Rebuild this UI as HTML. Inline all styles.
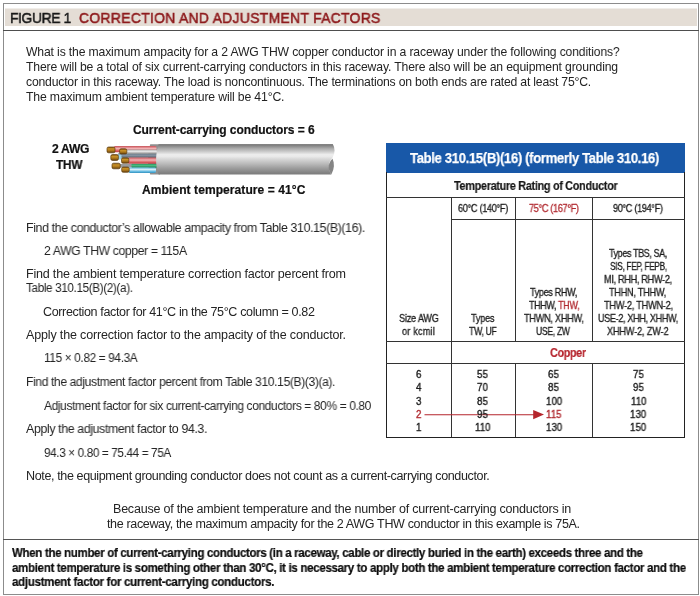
<!DOCTYPE html>
<html lang="en">
<head>
<meta charset="utf-8">
<title>Figure 1 Correction and Adjustment Factors</title>
<style>
html,body{margin:0;padding:0;background:#fff;}
body{width:700px;height:596px;position:relative;overflow:hidden;font-family:"Liberation Sans",sans-serif;}
.x{position:absolute;white-space:nowrap;line-height:1;transform-origin:0 0;color:#333;margin:0;padding:0;will-change:transform;}
.r{color:#242424;}
.b{font-weight:bold;color:#111;-webkit-text-stroke:0.2px currentColor;}
.bb{font-weight:bold;color:#0c0c0c;-webkit-text-stroke:0.2px currentColor;}
.ti{color:#181818;-webkit-text-stroke:0.55px currentColor;}
.red1{color:#8e1b1d;}
.red2{color:#b0282e;}
.red3{color:#b5222b;}
.t{color:#1a1a1a;-webkit-text-stroke:0.3px currentColor;}
.t.red2{color:#b0282e;}
.t.d{-webkit-text-stroke:0.35px currentColor;}
.tb{font-weight:bold;color:#151515;-webkit-text-stroke:0.15px currentColor;}
.tb.red3{color:#b5222b;}
.th{font-weight:bold;color:#fff;-webkit-text-stroke:0.25px #fff;}
.abs{position:absolute;}
</style>
</head>
<body>
<!-- outer frame -->
<div class="abs" style="left:3px;top:3px;width:696px;height:592px;border:1px solid #8c8c8c;box-sizing:border-box;"></div>
<!-- title bar -->
<div class="abs" style="left:5px;top:8px;width:692px;height:1px;background:#f1eeea;"></div>
<div class="abs" style="left:5px;top:9px;width:692px;height:17px;background:#e4ddd5;"></div>
<div class="abs" style="left:3px;top:30px;width:696px;height:1px;background:#4e4e4e;"></div>
<!-- bottom separator -->
<svg class="abs" style="left:0;top:536px;" width="700" height="8"><path d="M3 3.5 H699" stroke="#555" stroke-width="1" fill="none"/></svg>

<!-- table -->
<div class="abs" style="left:386px;top:143px;width:299px;height:30px;background:#1858a8;"></div>
<svg class="abs" style="left:0;top:0;" width="700" height="596" viewBox="0 0 700 596">
  <g stroke="#222" stroke-width="1.2" fill="none" shape-rendering="crispEdges">
    <path d="M386.5 172 V437.5 H684.5 V172"/>
  </g>
  <g stroke="#333" stroke-width="1" fill="none" shape-rendering="crispEdges">
    <path d="M386 197.5 H685"/>
    <path d="M451.5 219.5 H685"/>
    <path d="M386 341.5 H685"/>
    <path d="M386 363.5 H685"/>
    <path d="M451.5 197 V437"/>
    <path d="M515.5 197 V341"/>
    <path d="M515.5 363 V437"/>
    <path d="M592.5 197 V341"/>
    <path d="M592.5 363 V437"/>
  </g>
  <!-- arrow -->
  <path d="M424.5 414.7 H535" stroke="#b5252c" stroke-width="1.1" fill="none"/>
  <path d="M533.2 409.9 L544 414.6 L533.2 419.2 Z" fill="#b5252c"/>
</svg>

<!--CABLE_START-->
<svg class="abs" style="left:100px;top:138px;" width="250" height="44" viewBox="100 138 250 44">
  <defs>
    <linearGradient id="sh" x1="0" y1="0" x2="0" y2="1">
      <stop offset="0" stop-color="#858585"/>
      <stop offset="0.035" stop-color="#7e7e7e"/>
      <stop offset="0.14" stop-color="#a9a9a9"/>
      <stop offset="0.24" stop-color="#c9c9c9"/>
      <stop offset="0.34" stop-color="#ececec"/>
      <stop offset="0.40" stop-color="#ebebeb"/>
      <stop offset="0.49" stop-color="#d8d8d8"/>
      <stop offset="0.65" stop-color="#b9b9b9"/>
      <stop offset="0.80" stop-color="#9b9b9b"/>
      <stop offset="0.93" stop-color="#848484"/>
      <stop offset="1" stop-color="#7a7a7a"/>
    </linearGradient>
    <linearGradient id="cu" x1="0" y1="0" x2="0" y2="1">
      <stop offset="0" stop-color="#7a5010"/>
      <stop offset="0.3" stop-color="#c99228"/>
      <stop offset="0.6" stop-color="#b07a1c"/>
      <stop offset="1" stop-color="#644010"/>
    </linearGradient>
    <linearGradient id="wr" x1="0" y1="0" x2="0" y2="1">
      <stop offset="0" stop-color="#c9545a"/><stop offset="0.4" stop-color="#f3b4b6"/><stop offset="0.75" stop-color="#dc5a5e"/><stop offset="1" stop-color="#b84348"/>
    </linearGradient>
    <linearGradient id="ww" x1="0" y1="0" x2="0" y2="1">
      <stop offset="0" stop-color="#a9a9a9"/><stop offset="0.4" stop-color="#ececec"/><stop offset="1" stop-color="#8f8f8f"/>
    </linearGradient>
    <linearGradient id="wd" x1="0" y1="0" x2="0" y2="1">
      <stop offset="0" stop-color="#5f6f7c"/><stop offset="0.45" stop-color="#8896a4"/><stop offset="1" stop-color="#56626e"/>
    </linearGradient>
    <linearGradient id="wg" x1="0" y1="0" x2="0" y2="1">
      <stop offset="0" stop-color="#1f8a55"/><stop offset="0.4" stop-color="#4fbf86"/><stop offset="1" stop-color="#1c7f4f"/>
    </linearGradient>
    <linearGradient id="wb" x1="0" y1="0" x2="0" y2="1">
      <stop offset="0" stop-color="#5eb6dc"/><stop offset="0.35" stop-color="#d9f0fa"/><stop offset="0.8" stop-color="#4fb0dc"/><stop offset="1" stop-color="#3a93bf"/>
    </linearGradient>
  </defs>
  <!-- inner rim of sheath -->
  <path d="M150.2 144.3 H160 V174.4 H150.2 Q147.6 166 148.2 159 Q147.6 152 150.2 144.3 Z" fill="#8f8f8f"/>
  <!-- wires (back to front) -->
  <rect x="113.5" y="146.1" width="43" height="6.2" rx="1.5" fill="url(#wr)"/>
  <rect x="118" y="153.2" width="39" height="4.6" rx="1" fill="url(#wd)"/>
  <rect x="117.5" y="154.6" width="4" height="5" rx="1" fill="#9ed4ea"/>
  <rect x="125.5" y="149.6" width="31.5" height="4.2" rx="1.2" fill="url(#ww)"/>
  <rect x="119" y="163.9" width="14" height="3.6" fill="#9a9a9a"/>
  <rect x="131.5" y="163.7" width="25.5" height="4" rx="0.8" fill="url(#wg)"/>
  <rect x="127.5" y="157.5" width="29.5" height="6.3" rx="1.5" fill="url(#wr)"/>
  <rect x="128.5" y="167.6" width="27.5" height="5.3" rx="1.4" fill="url(#wb)"/>
  <!-- copper tips -->
  <rect x="107" y="147" width="8" height="5.8" rx="1.6" fill="url(#cu)" stroke="#5e3e10" stroke-width="0.7"/>
  <rect x="119.6" y="148.8" width="7.2" height="5.2" rx="1.5" fill="url(#cu)" stroke="#5e3e10" stroke-width="0.7"/>
  <rect x="110.8" y="154.6" width="7.6" height="5.8" rx="1.6" fill="url(#cu)" stroke="#5e3e10" stroke-width="0.7"/>
  <rect x="112" y="163.2" width="8.2" height="5.6" rx="1.6" fill="url(#cu)" stroke="#5e3e10" stroke-width="0.7"/>
  <rect x="121.5" y="157.8" width="7.3" height="5.4" rx="1.5" fill="url(#cu)" stroke="#5e3e10" stroke-width="0.7"/>
  <rect x="121.7" y="167" width="7.5" height="5.3" rx="1.5" fill="url(#cu)" stroke="#5e3e10" stroke-width="0.7"/>
  <!-- sheath body -->
  <path d="M158.6 144.1 H332.8 Q336.4 150.5 332.6 157.5 Q328.4 162 329 167.5 Q329.6 172 331.3 174.6 H158.6 Q155.6 166.5 156.2 159.3 Q155.8 152 158.6 144.1 Z" fill="url(#sh)"/>
  <!-- cut end ellipse -->
  <path d="M331.3 174.5 Q327.2 168.5 329.3 163.5 Q330.6 160.6 332.5 158.6 Q336 166.5 331.3 174.5 Z" fill="#858585"/>
</svg>
<!--CABLE_END-->

<div class="x ti" style="left:10.31px;top:10.00px;font-size:15.1px;letter-spacing:-0.400px;transform:scaleX(0.9167);">FIGURE 1</div>
<div class="x ti red1" style="left:79.00px;top:10.00px;font-size:15.1px;letter-spacing:0.328px;transform:scaleX(0.9218);">CORRECTION AND ADJUSTMENT FACTORS</div>
<div class="x r" style="left:26.20px;top:46.30px;font-size:12.2px;letter-spacing:-0.151px;transform:scaleX(0.9998);">What is the maximum ampacity for a 2 AWG THW copper conductor in a raceway under the following conditions?</div>
<div class="x r" style="left:26.40px;top:61.11px;font-size:12.2px;letter-spacing:-0.146px;transform:scaleX(1.0004);">There will be a total of six current-carrying conductors in this raceway. There also will be an equipment grounding</div>
<div class="x r" style="left:26.00px;top:76.02px;font-size:12.2px;letter-spacing:-0.199px;transform:scaleX(1.0018);">conductor in this raceway. The load is noncontinuous. The terminations on both ends are rated at least 75°C.</div>
<div class="x r" style="left:26.40px;top:90.61px;font-size:12.2px;letter-spacing:-0.154px;transform:scaleX(1.0037);">The maximum ambient temperature will be 41°C.</div>
<div class="x b" style="left:133.00px;top:123.60px;font-size:12px;letter-spacing:-0.078px;transform:scaleX(1.0011);">Current-carrying conductors = 6</div>
<div class="x b" style="left:51.60px;top:142.71px;font-size:12px;letter-spacing:-0.267px;transform:scaleX(1.0087);">2 AWG</div>
<div class="x b" style="left:56.40px;top:158.60px;font-size:12px;letter-spacing:-0.243px;transform:scaleX(0.9862);">THW</div>
<div class="x b" style="left:141.80px;top:183.51px;font-size:12px;letter-spacing:0.070px;transform:scaleX(1.0030);">Ambient temperature = 41°C</div>
<div class="x r" style="left:25.79px;top:221.51px;font-size:12.5px;letter-spacing:-0.400px;transform:scaleX(0.9922);">Find the conductor’s allowable ampacity from Table 310.15(B)(16).</div>
<div class="x r" style="left:43.87px;top:245.01px;font-size:12.5px;letter-spacing:-0.400px;transform:scaleX(0.9781);">2 AWG THW copper = 115A</div>
<div class="x r" style="left:25.79px;top:268.01px;font-size:12.5px;letter-spacing:-0.210px;transform:scaleX(1.0047);">Find the ambient temperature correction factor percent from</div>
<div class="x r" style="left:26.20px;top:282.21px;font-size:12.5px;letter-spacing:-0.400px;transform:scaleX(0.9394);">Table 310.15(B)(2)(a).</div>
<div class="x r" style="left:42.98px;top:306.21px;font-size:12.5px;letter-spacing:-0.368px;transform:scaleX(1.0036);">Correction factor for 41°C in the 75°C column = 0.82</div>
<div class="x r" style="left:26.00px;top:329.30px;font-size:12.5px;letter-spacing:-0.170px;transform:scaleX(1.0030);">Apply the correction factor to the ampacity of the conductor.</div>
<div class="x r" style="left:44.14px;top:352.21px;font-size:12.5px;letter-spacing:-0.400px;transform:scaleX(0.9504);">115 × 0.82 = 94.3A</div>
<div class="x r" style="left:25.79px;top:376.30px;font-size:12.5px;letter-spacing:-0.400px;transform:scaleX(0.9692);">Find the adjustment factor percent from Table 310.15(B)(3)(a).</div>
<div class="x r" style="left:44.00px;top:399.51px;font-size:12.5px;letter-spacing:-0.400px;transform:scaleX(0.9585);">Adjustment factor for six current-carrying conductors = 80% = 0.80</div>
<div class="x r" style="left:26.00px;top:422.51px;font-size:12.5px;letter-spacing:-0.400px;transform:scaleX(0.9931);">Apply the adjustment factor to 94.3.</div>
<div class="x r" style="left:43.79px;top:446.60px;font-size:12.5px;letter-spacing:-0.400px;transform:scaleX(0.9401);">94.3 × 0.80 = 75.44 = 75A</div>
<div class="x r" style="left:25.99px;top:469.80px;font-size:12.5px;letter-spacing:-0.382px;transform:scaleX(1.0040);">Note, the equipment grounding conductor does not count as a current-carrying conductor.</div>
<div class="x r" style="left:112.99px;top:503.01px;font-size:12.5px;letter-spacing:-0.234px;transform:scaleX(1.0032);">Because of the ambient temperature and the number of current-carrying conductors in</div>
<div class="x r" style="left:107.00px;top:518.01px;font-size:12.5px;letter-spacing:-0.353px;transform:scaleX(1.0013);">the raceway, the maximum ampacity for the 2 AWG THW conductor in this example is 75A.</div>
<div class="x bb" style="left:12.05px;top:547.00px;font-size:12.4px;letter-spacing:-0.351px;transform:scaleX(0.9294);">When the number of current-carrying conductors (in a raceway, cable or directly buried in the earth) exceeds three and the</div>
<div class="x bb" style="left:12.20px;top:561.50px;font-size:12.4px;letter-spacing:-0.334px;transform:scaleX(0.9288);">ambient temperature is something other than 30°C, it is necessary to apply both the ambient temperature correction factor and the</div>
<div class="x bb" style="left:12.20px;top:576.00px;font-size:12.4px;letter-spacing:-0.321px;transform:scaleX(0.9315);">adjustment factor for current-carrying conductors.</div>
<div class="x th" style="left:410.00px;top:150.01px;font-size:15px;letter-spacing:-0.400px;transform:scaleX(0.8739);">Table 310.15(B)(16) (formerly Table 310.16)</div>
<div class="x tb" style="left:454.00px;top:180.01px;font-size:12.6px;letter-spacing:-0.400px;transform:scaleX(0.8681);">Temperature Rating of Conductor</div>
<div class="x t" style="left:458.00px;top:203.52px;font-size:10.3px;letter-spacing:-0.272px;transform:scaleX(0.8764);">60°C (140°F)</div>
<div class="x t red2" style="left:529.00px;top:203.52px;font-size:10.3px;letter-spacing:-0.366px;transform:scaleX(0.8871);">75°C (167°F)</div>
<div class="x t" style="left:613.00px;top:203.52px;font-size:10.3px;letter-spacing:-0.319px;transform:scaleX(0.8783);">90°C (194°F)</div>
<div class="x t" style="left:398.99px;top:314.41px;font-size:10.3px;letter-spacing:-0.239px;transform:scaleX(0.8911);">Size AWG</div>
<div class="x t" style="left:402.00px;top:327.41px;font-size:10.3px;letter-spacing:0.227px;transform:scaleX(0.8848);">or kcmil</div>
<div class="x t" style="left:470.99px;top:314.41px;font-size:10.3px;letter-spacing:-0.186px;transform:scaleX(0.8812);">Types</div>
<div class="x t" style="left:469.20px;top:327.41px;font-size:10.3px;letter-spacing:-0.400px;transform:scaleX(0.8455);">TW, UF</div>
<div class="x t" style="left:530.00px;top:287.80px;font-size:10.3px;letter-spacing:-0.400px;transform:scaleX(0.8831);">Types RHW,</div>
<div class="x t" style="left:529.20px;top:301.02px;font-size:10.3px;letter-spacing:-0.400px;transform:scaleX(0.8702);">THHW, <span class="red2">THW,</span></div>
<div class="x t" style="left:524.00px;top:314.30px;font-size:10.3px;letter-spacing:-0.254px;transform:scaleX(0.8846);">THWN, XHHW,</div>
<div class="x t" style="left:536.00px;top:327.30px;font-size:10.3px;letter-spacing:-0.400px;transform:scaleX(0.8364);">USE, ZW</div>
<div class="x t" style="left:609.00px;top:248.52px;font-size:10.3px;letter-spacing:-0.400px;transform:scaleX(0.8657);">Types TBS, SA,</div>
<div class="x t" style="left:610.00px;top:261.52px;font-size:10.3px;letter-spacing:-0.400px;transform:scaleX(0.8063);">SIS, FEP, FEPB,</div>
<div class="x t" style="left:603.99px;top:274.52px;font-size:10.3px;letter-spacing:-0.357px;transform:scaleX(0.8885);">MI, RHH, RHW-2,</div>
<div class="x t" style="left:609.00px;top:287.80px;font-size:10.3px;letter-spacing:-0.264px;transform:scaleX(0.8850);">THHN, THHW,</div>
<div class="x t" style="left:604.00px;top:301.02px;font-size:10.3px;letter-spacing:-0.247px;transform:scaleX(0.8898);">THW-2, THWN-2,</div>
<div class="x t" style="left:598.00px;top:314.30px;font-size:10.3px;letter-spacing:-0.400px;transform:scaleX(0.8831);">USE-2, XHH, XHHW,</div>
<div class="x t" style="left:607.00px;top:327.30px;font-size:10.3px;letter-spacing:-0.137px;transform:scaleX(0.8845);">XHHW-2, ZW-2</div>
<div class="x tb red3" style="left:550.00px;top:347.01px;font-size:12.6px;letter-spacing:-0.400px;transform:scaleX(0.8573);">Copper</div>
<div class="x t d" style="left:416.44px;top:370.11px;font-size:10.0px;letter-spacing:0.100px;transform:scaleX(0.9600);">6</div>
<div class="x t d" style="left:477.44px;top:370.11px;font-size:10.0px;letter-spacing:0.100px;transform:scaleX(0.9600);">55</div>
<div class="x t d" style="left:548.24px;top:370.11px;font-size:10.0px;letter-spacing:0.100px;transform:scaleX(0.9600);">65</div>
<div class="x t d" style="left:633.04px;top:370.11px;font-size:10.0px;letter-spacing:0.100px;transform:scaleX(0.9600);">75</div>
<div class="x t d" style="left:416.30px;top:383.31px;font-size:10.0px;letter-spacing:0.100px;transform:scaleX(0.9600);">4</div>
<div class="x t d" style="left:477.42px;top:383.31px;font-size:10.0px;letter-spacing:0.100px;transform:scaleX(0.9600);">70</div>
<div class="x t d" style="left:548.24px;top:383.31px;font-size:10.0px;letter-spacing:0.100px;transform:scaleX(0.9600);">85</div>
<div class="x t d" style="left:633.04px;top:383.31px;font-size:10.0px;letter-spacing:0.100px;transform:scaleX(0.9600);">95</div>
<div class="x t d" style="left:416.44px;top:396.65px;font-size:10.0px;letter-spacing:0.100px;transform:scaleX(0.9600);">3</div>
<div class="x t d" style="left:477.44px;top:396.65px;font-size:10.0px;letter-spacing:0.100px;transform:scaleX(0.9600);">85</div>
<div class="x t d" style="left:545.63px;top:396.65px;font-size:10.0px;letter-spacing:0.100px;transform:scaleX(0.9600);">100</div>
<div class="x t d" style="left:630.79px;top:396.65px;font-size:10.0px;letter-spacing:0.100px;transform:scaleX(0.9600);">110</div>
<div class="x t d red2" style="left:416.47px;top:409.81px;font-size:10.0px;letter-spacing:0.100px;transform:scaleX(0.9600);">2</div>
<div class="x t d" style="left:477.44px;top:409.81px;font-size:10.0px;letter-spacing:0.100px;transform:scaleX(0.9600);">95</div>
<div class="x t d red2" style="left:545.99px;top:409.81px;font-size:10.0px;letter-spacing:0.100px;transform:scaleX(0.9600);">115</div>
<div class="x t d" style="left:630.41px;top:409.81px;font-size:10.0px;letter-spacing:0.100px;transform:scaleX(0.9600);">130</div>
<div class="x t d" style="left:416.45px;top:423.11px;font-size:10.0px;letter-spacing:0.100px;transform:scaleX(0.9600);">1</div>
<div class="x t d" style="left:475.19px;top:423.11px;font-size:10.0px;letter-spacing:0.100px;transform:scaleX(0.9600);">110</div>
<div class="x t d" style="left:545.63px;top:423.11px;font-size:10.0px;letter-spacing:0.100px;transform:scaleX(0.9600);">130</div>
<div class="x t d" style="left:630.41px;top:423.11px;font-size:10.0px;letter-spacing:0.100px;transform:scaleX(0.9600);">150</div>
</body>
</html>
